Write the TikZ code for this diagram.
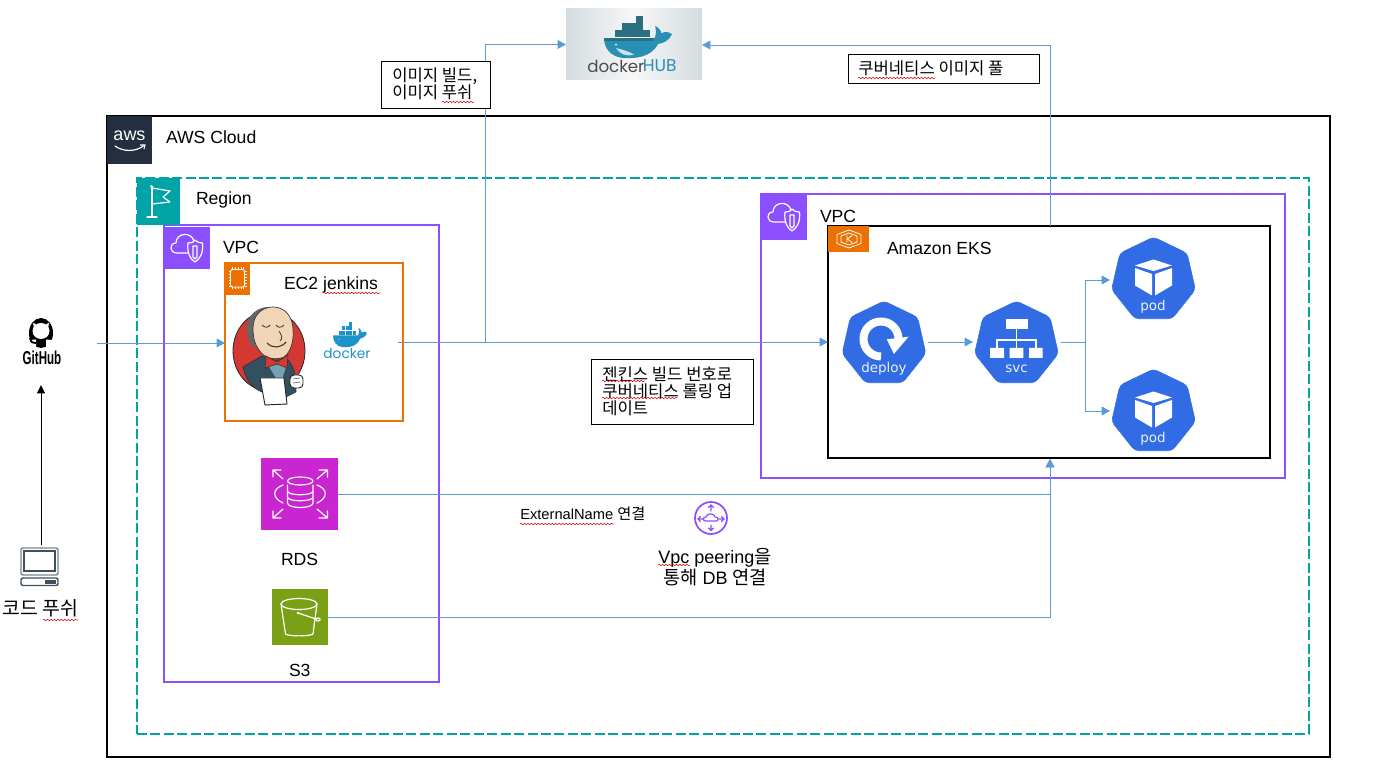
\documentclass[tikz,border=0pt]{standalone}
\usepackage{fontspec}
\usepackage{graphicx}
\setmainfont{Liberation Sans}
\newfontfamily\kr[Scale=1.04]{Noto Sans CJK KR}
\newfontfamily\dvu{DejaVu Sans}
\newfontfamily\pop{Poppins}
\usetikzlibrary{arrows.meta,shapes.geometric,decorations.pathmorphing}
\definecolor{awsnavy}{HTML}{232F3E}
\definecolor{regionteal}{HTML}{00A4A6}
\definecolor{vpcpurple}{HTML}{8C4FFF}
\definecolor{ecorange}{HTML}{ED7100}
\definecolor{linkblue}{HTML}{5B9BD5}
\definecolor{kubeblue}{HTML}{326CE5}
\definecolor{rdspink}{HTML}{C925D1}
\definecolor{sgreen}{HTML}{7AA116}
\definecolor{dockblue}{HTML}{1D91C9}
\definecolor{hubblue}{HTML}{2A8FB5}
\definecolor{hubdark}{HTML}{2A6F82}
\definecolor{hubedge}{HTML}{D5DCDF}
\definecolor{hubmid}{HTML}{F6F7F8}
\definecolor{pcgray}{HTML}{414F5F}
\definecolor{jacket}{HTML}{335061}
\definecolor{skin}{HTML}{F0D6B7}
\definecolor{jred}{HTML}{D33833}
\tikzset{
  sz/.style 2 args={minimum width=#1*0.75pt,minimum height=#2*0.75pt,inner sep=0pt,outer sep=0pt,anchor=north west},
  frame/.style={rectangle,draw,line width=1.5pt},
  logo/.style={rectangle,draw=none},
  label/.style={inner sep=0pt,outer sep=0pt,anchor=west,font=\fontsize{13.2}{15}\selectfont},
  tbox/.style={rectangle,draw=black,line width=0.7pt,fill=white},
  link/.style={draw=linkblue,line width=0.7pt,-{Triangle[length=6.2pt,width=6.5pt]}},
  plainlink/.style={draw=linkblue,line width=0.7pt},
  spell/.style={draw=red!85!black,line width=0.4pt,decorate,decoration={snake,amplitude=0.55pt,segment length=2.6pt}},
  wht/.style={draw=white,line width=0.9pt,line join=round,line cap=round},
  kube/.style={regular polygon,regular polygon sides=7,minimum size=64.5pt,inner sep=0pt,outer sep=0pt,fill=kubeblue,draw=kubeblue,rounded corners=3pt},
  kubetxt/.style={inner sep=0pt,text=white!90!kubeblue,font=\dvu\fontsize{10.1}{12}\selectfont},
}
\newcommand{\whaleicon}[6]{%
 \begin{scope}[shift={(#1,#2)},x=#3*0.75pt,y=-#4*0.75pt]
  \fill[#5] (3,32) -- (75,32) .. controls (78,26) and (77,20) .. (76,14) .. controls (80,16) and (84,20) .. (85,25)
    .. controls (90,21) and (96,23) .. (100,26) .. controls (96,35) and (88,39) .. (80,40)
    .. controls (70,60) and (45,61) .. (30,60) .. controls (12,58) and (3,46) .. (3,32) -- cycle;
  \foreach \cx in {19,29,39,49,59} \fill[#6] (\cx,20.5) rectangle ++(9,9.5);
  \foreach \cx in {29,39,49} \fill[#6] (\cx,10) rectangle ++(9,9.5);
  \fill[#6] (49,0) rectangle ++(9,9.5);
  \fill[white] (20,41) circle[radius=1.4];
 \end{scope}}
\newcommand{\vpcicon}[2]{%
 \begin{scope}[shift={(#1,#2)}]
  \draw[wht] (24,26) -- (13,26) .. controls (5,26) and (5,16) .. (12,16) .. controls (12,6) and (27,4) .. (30,14);
  \draw[wht,fill=vpcpurple] (31,13) .. controls (34,16) and (37,16) .. (38.5,16) .. controls (39.5,26) and (36,32) .. (31,35) .. controls (26,32) and (23,26) .. (24,16) .. controls (26,16) and (29,16) .. (31,13) -- cycle;
  \draw[wht] (29,19) -- (33,19) -- (33,30) -- (31,32) -- (29,30) -- cycle;
 \end{scope}}
\newcommand{\podicon}[2]{%
 \begin{scope}[shift={(#1,#2)}]
  \fill[white] (0,0) -- (18.5,6) -- (0,11.5) -- (-18.5,6) -- cycle;
  \fill[white] (-18.5,8.5) -- (-1.5,14.5) -- (-1.5,36) -- (-18.5,26) -- cycle;
  \fill[white] (18.5,8.5) -- (1.5,14.5) -- (1.5,36) -- (18.5,26) -- cycle;
 \end{scope}}
\begin{document}
\begin{tikzpicture}[x=0.75pt,y=-0.75pt]
\useasboundingbox (0,0) rectangle (1375,780);

% containers
\node[frame,draw=black,sz={1223}{641}] (aws) at (107,116) {};
\node[frame,draw=regionteal,dash pattern=on 7.5pt off 2.6pt,sz={1172}{556}] (region) at (137,178) {};
\node[frame,draw=vpcpurple,sz={275}{457}] (vpcleft) at (164,225) {};
\node[frame,draw=ecorange,sz={178}{158}] (ec2) at (225,263) {};
\node[frame,draw=vpcpurple,sz={524}{284}] (vpcright) at (761,194) {};
\node[frame,draw=black,sz={442}{232}] (eks) at (828,226) {};

% group logos
\node[logo,fill=awsnavy,sz={45}{48}] (awslogo) at (107,116) {};
\node[inner sep=0pt,text=white,font=\fontsize{13.5}{15}\selectfont] (awsword) at (129.5,135.5) {aws};
\draw[white,line width=0.9pt,line cap=round] (115,146) .. controls (123,152) and (136,152) .. (144,145.5);
\draw[white,line width=0.8pt] (140,145) -- (145,145) -- (144,149);
\node[logo,fill=regionteal,sz={43}{47}] (regionlogo) at (137,178) {};
\draw[wht] (152,187) -- (152,217) (147,217) -- (157,217);
\draw[wht] (152,188) -- (170,191) -- (163,197) -- (170,202) -- (152,204);
\fill[white] (151.5,186.5) circle[radius=1.5];
\node[logo,fill=vpcpurple,sz={46}{42}] (vpcllogo) at (164,227) {};
\vpcicon{164}{227}
\node[logo,fill=vpcpurple,sz={46}{46}] (vpcrlogo) at (761,194) {};
\vpcicon{761}{196}
\node[logo,fill=ecorange,sz={25}{32}] (ec2logo) at (225,263) {};
\draw[white,line width=0.7pt,rounded corners=1.5pt] (230.5,269.5) rectangle (244.5,287);
\foreach \py in {271,274,277,280,283,286} {\draw[white,line width=0.4pt] (228.5,\py) -- (230.5,\py) (244.5,\py) -- (246.5,\py);}
\foreach \px in {232,235,238,241,243.5} {\draw[white,line width=0.4pt] (\px,267.5) -- (\px,269.5) (\px,287) -- (\px,289);}
\node[logo,fill=ecorange,sz={41}{26}] (ekslogo) at (828,226) {};
\draw[white,line width=0.6pt] (837,234.5) -- (849,230) -- (861,234.5) -- (861,243.5) -- (849,248) -- (837,243.5) -- cycle;
\draw[white,line width=0.6pt] (841,236) -- (849,233) -- (857,236) -- (857,242) -- (849,245) -- (841,242) -- cycle;
\draw[white,line width=0.6pt] (847,235.5) -- (847,242.5) (852,235.5) -- (847.5,239) -- (852,242.5);

% connectors
\coordinate (ghout) at (97,343);
\coordinate (pcout) at (41,545);
\coordinate (ghin) at (41,385);
\coordinate (ecout) at (398,342);
\coordinate (turnup) at (485,342);
\coordinate (depout) at (928,342);
\coordinate (svcin) at (973,342);
\coordinate (svcout) at (1061,342);
\coordinate (fork) at (1085,342);
\coordinate (podain) at (1110,280);
\coordinate (podbin) at (1110,411);
\coordinate (rdsout) at (338,494);
\coordinate (sout) at (328,617);
\coordinate (dbx) at (1050,494);
\coordinate (sbx) at (1050,617);
\coordinate (eksup) at (1050,226);
\coordinate (hubright) at (1050,45);
\coordinate (ekssouth) at (1050,459);

\node[rectangle,sz={136}{71},left color=hubedge,right color=hubedge,middle color=hubmid] (hub) at (566,9) {};
\whaleicon{602}{16}{0.7}{0.7}{hubblue}{hubdark}
\fill[hubdark] (604,38.5) -- (654,38.5) -- (654,41) -- (604,41) -- cycle;
\fill[white!75!hubblue] (616,48) .. controls (624,50) and (630,52) .. (634,54.5) .. controls (626,57) and (620,54) .. (616,48) -- cycle;
\node[inner sep=0pt,anchor=west,text=black!70,font=\pop\fontsize{12.5}{14}\selectfont] (hubword) at (587,66) {docker};
\node[inner sep=0pt,anchor=west,text=hubblue,font=\pop\fontsize{12.8}{14}\selectfont] (hubname) at (642.5,66) {HUB};

\draw[link] (ghout) -- (ec2.west |- ghout);
\draw[black,line width=0.7pt,-{Triangle[length=6.2pt,width=6pt]}] (pcout) -- (ghin);
\draw[link] (ecout) -- (eks.west |- ecout);
\draw[link] (ecout) -- (turnup) -- (turnup |- hub.west) -- (hub.west);
\draw[link] (eksup) -- (hubright) -- (hub.east |- hubright);
\draw[link] (depout) -- (svcin);
\draw[plainlink] (svcout) -- (fork);
\draw[link] (fork) -- (fork |- podain) -- (podain);
\draw[link] (fork) -- (fork |- podbin) -- (podbin);
\draw[link] (rdsout) -- (dbx) -- (ekssouth);
\draw[link] (sout) -- (sbx) -- (ekssouth);

% group labels
\node[label] (awstext) at (166,137) {AWS Cloud};
\node[label] (regiontext) at (196,200) {Region};
\node[label] (vpcltext) at (223,247) {VPC};
\node[label] (ec2text) at (284,285) {EC2 jenkins};
\node[label] (vpcrtext) at (820,216) {VPC};
\node[label] (ekstext) at (887,248) {Amazon EKS};

% text boxes
\node[tbox,sz={109}{47}] (buildbox) at (381,61) {};
\node[inner sep=0pt,anchor=west,align=left,font=\kr\fontsize{12}{12.9}\selectfont] (buildtext) at (392,84) {이미지 빌드,\\이미지 푸쉬};
\node[tbox,sz={191}{29}] (pullbox) at (848,54) {};
\node[inner sep=0pt,anchor=west,font=\kr\fontsize{12}{14}\selectfont] (pulltext) at (858,68.5) {쿠버네티스 이미지 풀};
\node[tbox,sz={162}{65}] (rollbox) at (591,359) {};
\node[inner sep=0pt,anchor=north west,align=left,font=\kr\fontsize{12}{13.1}\selectfont] (rolltext) at (602,366) {젠킨스 빌드 번호로\\쿠버네티스 롤링 업\\데이트};

% GitHub
\fill[black] (41,333) ellipse[x radius=12,y radius=15];
\fill[white] (41,331) ellipse[x radius=8.5,y radius=8];
\fill[white] (33,323) -- (36,324) -- (34,328) -- cycle (49,323) -- (46,324) -- (48,328) -- cycle;
\fill[white] (29.5,340) -- (36,339.5) -- (36,349) -- (30,345) -- cycle;
\fill[white] (52.5,340) -- (46,339.5) -- (46,349) -- (52,345) -- cycle;
\draw[black,line width=1.4pt] (30,338) .. controls (31,343) and (33,343) .. (36,343);
\node[inner sep=0pt,font=\bfseries\fontsize{14}{16}\selectfont] (github) at (42,357.5) {\scalebox{0.62}[1]{GitHub}};

% desktop computer
\draw[pcgray!70,line width=1.1pt,rounded corners=1.5pt] (21,548) rectangle (58,575);
\draw[pcgray,line width=1.1pt] (24,551) rectangle (55,571);
\draw[pcgray,line width=1.1pt,rounded corners=1.5pt] (21,578) rectangle (58,585.5);
\fill[pcgray] (45,580) rectangle (56,583.5);
\node[inner sep=0pt,anchor=west,font=\kr\fontsize{14}{16}\selectfont] (pushtext) at (2,608) {코드 푸쉬};

% Jenkins
\fill[jred,draw=black!85,line width=0.6pt] (269,351) ellipse[x radius=36,y radius=40];
\fill[black!60] (247,330) .. controls (246,315) and (258,306) .. (271,307) -- (268,325) -- (254,348) .. controls (250,345) and (247,338) .. (247,330) -- cycle;
\fill[skin,draw=black!80,line width=0.5pt] (253,328) .. controls (253,314) and (263,307) .. (273,307) .. controls (286,307) and (293,318) .. (293,330)
  .. controls (294,340) and (291,352) .. (284,357) .. controls (274,361) and (264,358) .. (259,350) .. controls (255,345) and (253,338) .. (253,328) -- cycle;
\draw[black!80,line width=0.6pt] (276,325) .. controls (278,328) and (281,328) .. (284,325);
\draw[black!80,line width=0.6pt] (262,325) .. controls (265,328) and (268,328) .. (270,325);
\draw[black!80,line width=0.6pt] (279,331) .. controls (282,336) and (283,338) .. (280,341);
\draw[black!80,line width=0.8pt] (267,343) .. controls (273,349) and (281,348) .. (286,342);
\fill[jacket,draw=black!80,line width=0.5pt] (243,367) -- (262,356) .. controls (270,361) and (280,361) .. (286,358) .. controls (294,365) and (296,374) .. (296,392) -- (286,397) -- (262,392) .. controls (252,388) and (246,380) .. (243,367) -- cycle;
\fill[cyan!35!gray] (268,365) -- (287,364) -- (280,385) -- cycle;
\fill[jred,draw=black!80,line width=0.4pt] (266,356) -- (277,362) -- (288,355) -- (287,368) -- (277,364) -- (265,368) -- cycle;
\fill[white,draw=black!85,line width=0.7pt] (260,378) -- (284,378) -- (287,404) -- (265,405) -- cycle;
\fill[white,draw=black!85,line width=0.7pt,rounded corners=3pt] (290,375) rectangle (303,388);
\draw[black!70,line width=0.4pt] (293,379) -- (300,378) (293,383) -- (300,382);

% docker in EC2
\whaleicon{332}{322}{0.35}{0.42}{dockblue}{dockblue}
\node[inner sep=0pt,text=dockblue,font=\pop\fontsize{10.3}{12}\selectfont] (dockerword) at (347,353.5) {docker};

% Kubernetes heptagons
\node[kube] (deploy) at (884,344) {};
\node[kube] (svc) at (1016.5,344) {};
\node[kube] (poda) at (1153.5,280) {};
\node[kube] (podb) at (1153.5,412) {};
\draw[white,line width=6pt] (881,356.5) .. controls (871.3,356.5) and (863.5,348.7) .. (863.5,339) .. controls (863.5,329.3) and (871.3,321.5) .. (881,321.5) .. controls (890.7,321.5) and (898.5,329.3) .. (898.5,339);
\fill[white] (886.8,339.3) -- (908.6,336.7) -- (893.9,354) -- cycle;
\node[kubetxt] (deploytext) at (884,369) {deploy};
\fill[white] (1005.5,319) rectangle (1028,329);
\draw[white,line width=1pt] (1016.7,329) -- (1016.7,348) (997,348) -- (997,340) -- (1036,340) -- (1036,348);
\fill[white] (990,348) rectangle (1004,358) (1009.6,348) rectangle (1023.4,358) (1029,348) rectangle (1042.5,358);
\node[kubetxt] (svctext) at (1016.5,369) {svc};
\podicon{1153.5}{259.5}
\node[kubetxt] (podatext) at (1153,307) {pod};
\podicon{1153.5}{391.5}
\node[kubetxt] (podbtext) at (1153,439) {pod};

% RDS
\node[logo,fill=rdspink,sz={77}{72}] (rds) at (261,458) {};
\begin{scope}[every path/.style={wht}]
 \draw (287.5,485) -- (287.5,503) .. controls (287.5,509) and (313,509) .. (313,503) -- (313,485);
 \draw (300.2,481) ellipse[x radius=12.7,y radius=4];
 \draw (287.5,491) .. controls (287.5,496) and (313,496) .. (313,491);
 \draw (287.5,497) .. controls (287.5,502) and (313,502) .. (313,497);
 \draw (283,485) .. controls (272,489) and (272,498) .. (283,503);
 \draw (317,485) .. controls (328,489) and (328,498) .. (317,503);
 \draw (273,470) -- (283,479) (273,477) -- (273,470) -- (281,470);
 \draw (327.5,470) -- (317,479) (327.5,477) -- (327.5,470) -- (319,470);
 \draw (273,518) -- (283,509) (273,511) -- (273,518) -- (281,518);
 \draw (327.5,518) -- (317,509) (327.5,511) -- (327.5,518) -- (319,518);
\end{scope}
\node[label] (rdstext) at (281,559) {RDS};

% S3
\node[logo,fill=sgreen,sz={56}{56}] (sthree) at (272,589) {};
\begin{scope}[every path/.style={wht}]
 \draw (299,604) ellipse[x radius=18,y radius=5.5];
 \draw (281,604) -- (285.5,634) .. controls (288,636.5) and (310,636.5) .. (313,634) -- (317,604);
 \draw (298,613) -- (316,619);
 \draw (318,619.5) ellipse[x radius=2.2,y radius=1.5];
\end{scope}
\fill[white] (298,613) circle[radius=1.4];
\node[label] (stext) at (289,670) {S3};

% VPC peering
\node[circle,draw=vpcpurple,line width=1.3pt,minimum size=24pt,inner sep=0pt] (peering) at (711,518) {};
\begin{scope}[vpcpurple,line width=0.9pt,line cap=round]
 \draw[fill=white] (706,521) .. controls (702,521) and (703,516.5) .. (706,517) .. controls (707,512.5) and (714,513) .. (715,517) .. controls (719,516.5) and (719,521) .. (716,521) -- cycle;
 \draw (711,511) -- (711,505) (708.5,507.5) -- (711,505) -- (713.5,507.5);
 \draw (711,525) -- (711,530.5) (708.5,528) -- (711,530.5) -- (713.5,528);
 \draw (703,519) -- (698,519) (700.5,516.5) -- (698,519) -- (700.5,521.5);
 \draw (719,519) -- (724,519) (721.5,516.5) -- (724,519) -- (721.5,521.5);
\end{scope}

% free labels
\node[inner sep=0pt,anchor=west,font=\fontsize{11}{13}\selectfont] (exttext) at (520,514) {ExternalName {\kr 연결}};
\node[inner sep=0pt,align=center,font=\fontsize{13.5}{16}\selectfont] (peertext) at (715,567) {Vpc peering{\kr 을}\\{\kr 통해} DB {\kr 연결}};

% spell-check underlines
\draw[spell] (323,293) -- (380,293);
\draw[spell] (442,102) -- (474,102);
\draw[spell] (858,78) -- (935,78);
\draw[spell] (602,381) -- (645,381);
\draw[spell] (602,398) -- (677,398);
\draw[spell] (520,524) -- (614,524);
\draw[spell] (658,565) -- (690,565);
\draw[spell] (43,620) -- (78,620);
\end{tikzpicture}
\end{document}
